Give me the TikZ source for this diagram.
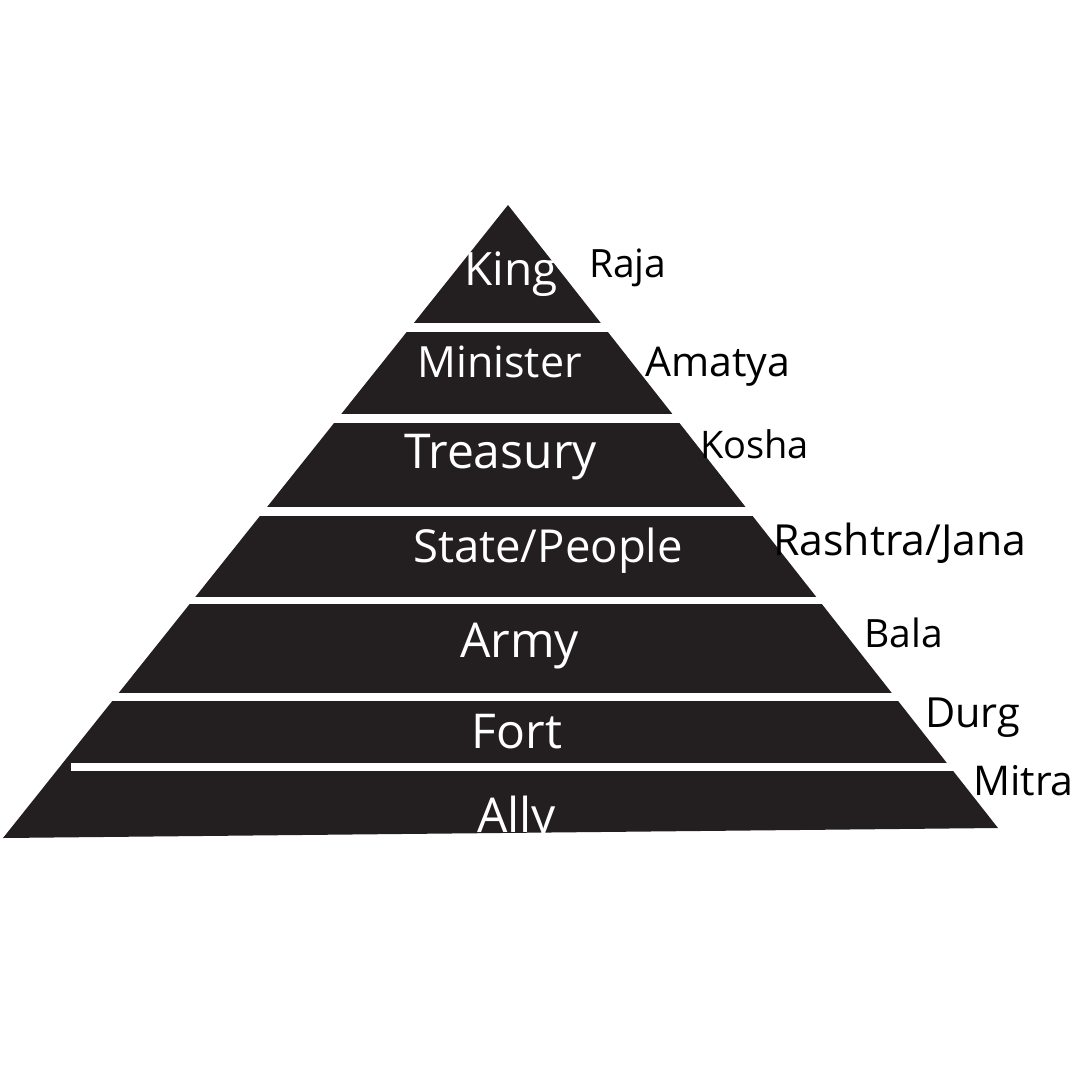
\documentclass[tikz,border=0pt]{standalone}
\usepackage{fontspec}
\setmainfont{Open Sans}
\usepackage{tikz}
\usetikzlibrary{positioning,calc}
\definecolor{pyramidblack}{HTML}{231F20}

\tikzset{
    layer/.style={text=white, inner sep=0pt, anchor=base, font=\fontsize{#1}{#1}\selectfont},
    layer/.default=46,
    sanskrit/.style={text=black, inner sep=0pt, anchor=base west, font=\fontsize{#1}{#1}\selectfont},
    sanskrit/.default=39,
    gap/.style={fill=white, draw=none}
}

\begin{document}
\begin{tikzpicture}[x=1pt, y=-1pt]
            \useasboundingbox[fill=white] (0,0) rectangle (1080,1080);
            % pyramid
            \coordinate (apex) at (508,205);
            \coordinate (left) at (3,838);
            \coordinate (right) at (998,828);
            \fill[pyramidblack] (apex)--(right)--(left)--cycle;
            % white gaps between the layers
            \fill[gap] (0,323) rectangle (1080,332);
            \fill[gap] (0,414) rectangle (1080,423);
            \fill[gap] (0,507) rectangle (1080,516);
            \fill[gap] (0,597) rectangle (1080,604);
            \fill[gap] (0,693) rectangle (1080,701);
            \fill[gap] (71,763) rectangle (1080,771);

            \node[layer](king) at (511,285){King};
            \node[layer=43](minister) at (499.5,377){Minister};
            \node[layer=48](treasury) at (500.5,468){Treasury};
            \node[layer=45.5](state) at (548,562){State/People};
            \node[layer=48](army) at (519.5,657){Army};
            \node[layer=48](fort) at (517,748){Fort};
            \node[layer=48](ally) at (516.5,832){Ally};

            \node[sanskrit](raja) at (589,277){Raja};
            \node[sanskrit=41](amatya) at (645,376){Amatya};
            \node[sanskrit=38](kosha) at (700,458){Kosha};
            \node[sanskrit=42.8](rashtra) at (773,555){Rashtra/Jana};
            \node[sanskrit](bala) at (864,647){Bala};
            \node[sanskrit=41.5](durg) at (925,727){Durg};
            \node[sanskrit=41](mitra) at (973,795){Mitra};
        \end{tikzpicture}
\end{document}
